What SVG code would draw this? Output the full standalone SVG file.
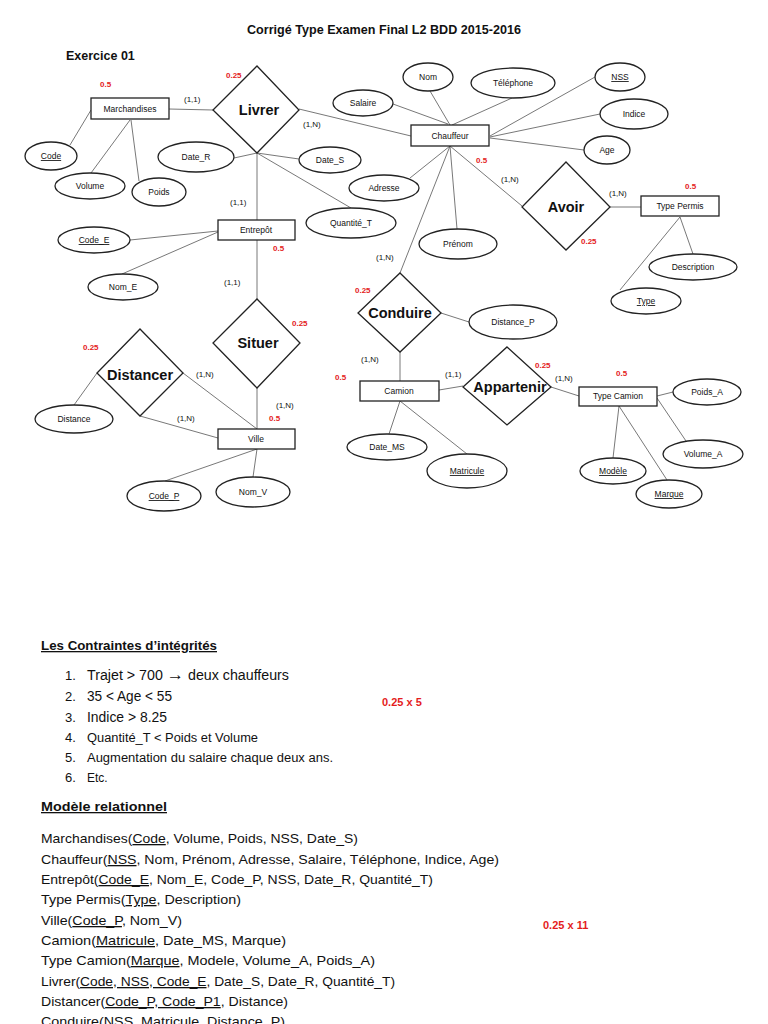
<svg xmlns="http://www.w3.org/2000/svg" width="768" height="1024" viewBox="0 0 768 1024">
<style>
text{font-family:"Liberation Sans",Arial,sans-serif;fill:#111}
.ent rect,.attr ellipse,.rel polygon{fill:#fff;stroke:#222;stroke-width:1.3}
.conn line{stroke:#555;stroke-width:0.8}
.lbl{font-size:8.5px;text-anchor:middle}
.big{font-size:14.5px;font-weight:bold;text-anchor:middle}
.card{font-size:8px}
.red{font-size:8px;fill:#e41c1c;font-weight:bold}
.redbig{font-size:11px;fill:#e41c1c;font-weight:bold}
.u{text-decoration:underline}
.body{font-size:13px}
.head{font-size:13px;font-weight:bold;text-decoration:underline}
</style>
<rect width="768" height="1024" fill="#fff"/>
<text x="384" y="34" font-size="12.5" font-weight="bold" text-anchor="middle" textLength="274" lengthAdjust="spacingAndGlyphs">Corrigé Type Examen Final L2 BDD 2015-2016</text>
<text x="66" y="60" font-size="12.5" font-weight="bold">Exercice 01</text>

<g class="conn">
<line x1="169" y1="109" x2="213" y2="110"/>
<line x1="299" y1="109" x2="411" y2="136"/>
<line x1="91" y1="110" x2="70" y2="145"/>
<line x1="130" y1="120" x2="91" y2="173"/>
<line x1="131" y1="120" x2="139" y2="181"/>
<line x1="257" y1="153" x2="234" y2="158"/>
<line x1="257" y1="153" x2="299" y2="159"/>
<line x1="257" y1="153" x2="351" y2="208"/>
<line x1="257" y1="153" x2="257" y2="220"/>
<line x1="430" y1="91" x2="450" y2="125"/>
<line x1="512" y1="98" x2="452" y2="125"/>
<line x1="393" y1="104" x2="448" y2="124"/>
<line x1="595" y1="77" x2="490" y2="136"/>
<line x1="600" y1="114" x2="490" y2="137"/>
<line x1="584" y1="150" x2="490" y2="138"/>
<line x1="450" y1="146" x2="410" y2="178"/>
<line x1="450" y1="146" x2="457" y2="229"/>
<line x1="450" y1="146" x2="400" y2="273"/>
<line x1="450" y1="146" x2="522" y2="206"/>
<line x1="610" y1="207" x2="641" y2="207"/>
<line x1="680" y1="217" x2="693" y2="254"/>
<line x1="680" y1="217" x2="620" y2="290"/>
<line x1="218" y1="231" x2="130" y2="240"/>
<line x1="218" y1="232" x2="122" y2="274"/>
<line x1="257" y1="240" x2="257" y2="299"/>
<line x1="257" y1="388" x2="257" y2="429"/>
<line x1="183" y1="373" x2="257" y2="429"/>
<line x1="140" y1="416" x2="218" y2="438"/>
<line x1="97" y1="373" x2="74" y2="405"/>
<line x1="257" y1="449" x2="165" y2="481"/>
<line x1="257" y1="449" x2="253" y2="477"/>
<line x1="441" y1="313" x2="469" y2="322"/>
<line x1="400" y1="352" x2="400" y2="381"/>
<line x1="439" y1="390" x2="463" y2="386"/>
<line x1="551" y1="387" x2="579" y2="396"/>
<line x1="400" y1="401" x2="389" y2="434"/>
<line x1="400" y1="401" x2="467" y2="454"/>
<line x1="657" y1="396" x2="673" y2="392"/>
<line x1="657" y1="398" x2="686" y2="441"/>
<line x1="619" y1="406" x2="613" y2="458"/>
<line x1="619" y1="406" x2="667" y2="480"/>
</g>

<g id="marchandises" class="ent"><rect x="91" y="98" width="78" height="21"/><text class="lbl" x="130" y="112">Marchandises</text></g>
<g id="chauffeur" class="ent"><rect x="411" y="125" width="78" height="21"/><text class="lbl" x="450" y="139">Chauffeur</text></g>
<g id="typepermis" class="ent"><rect x="641" y="196" width="78" height="20"/><text class="lbl" x="680" y="209">Type Permis</text></g>
<g id="entrepot" class="ent"><rect x="218" y="220" width="77" height="20"/><text class="lbl" x="256" y="233">Entrepôt</text></g>
<g id="ville" class="ent"><rect x="218" y="429" width="77" height="20"/><text class="lbl" x="256" y="442">Ville</text></g>
<g id="camion" class="ent"><rect x="360" y="381" width="79" height="20"/><text class="lbl" x="399" y="394">Camion</text></g>
<g id="typecamion" class="ent"><rect x="579" y="387" width="78" height="19"/><text class="lbl" x="618" y="399">Type Camion</text></g>

<g id="livrer" class="rel"><polygon points="257,66 299,110 257,153 213,110"/><text class="big" x="259" y="115">Livrer</text></g>
<g id="avoir" class="rel"><polygon points="566,162 610,207 566,250 522,207"/><text class="big" x="566" y="212">Avoir</text></g>
<g id="situer" class="rel"><polygon points="257,299 300,343 257,388 213,343"/><text class="big" x="258" y="348">Situer</text></g>
<g id="distancer" class="rel"><polygon points="140,329 183,373 140,416 97,373"/><text class="big" x="140" y="380">Distancer</text></g>
<g id="conduire" class="rel"><polygon points="400,273 441,313 400,352 358,313"/><text class="big" x="400" y="318">Conduire</text></g>
<g id="appartenir" class="rel"><polygon points="507,347 551,387 507,425 463,387"/><text class="big" x="510" y="392">Appartenir</text></g>

<g id="code" class="attr"><ellipse cx="51" cy="156" rx="26" ry="14"/><text class="lbl u" x="51" y="159">Code</text></g>
<g id="volume" class="attr"><ellipse cx="90" cy="186" rx="35" ry="13"/><text class="lbl" x="90" y="189">Volume</text></g>
<g id="poids" class="attr"><ellipse cx="159" cy="192" rx="27" ry="14"/><text class="lbl" x="159" y="195">Poids</text></g>
<g id="dater" class="attr"><ellipse cx="196" cy="157" rx="38" ry="15"/><text class="lbl" x="196" y="160">Date_R</text></g>
<g id="dates" class="attr"><ellipse cx="330" cy="160" rx="31" ry="13"/><text class="lbl" x="330" y="163">Date_S</text></g>
<g id="quantitet" class="attr"><ellipse cx="351" cy="223" rx="45" ry="15"/><text class="lbl" x="351" y="226">Quantité_T</text></g>
<g id="nom" class="attr"><ellipse cx="428" cy="77" rx="25" ry="14"/><text class="lbl" x="428" y="80">Nom</text></g>
<g id="telephone" class="attr"><ellipse cx="513" cy="83" rx="42" ry="15"/><text class="lbl" x="513" y="86">Téléphone</text></g>
<g id="salaire" class="attr"><ellipse cx="363" cy="103" rx="30" ry="13"/><text class="lbl" x="363" y="106">Salaire</text></g>
<g id="nss" class="attr"><ellipse cx="620" cy="77" rx="25" ry="14"/><text class="lbl u" x="620" y="80">NSS</text></g>
<g id="indice" class="attr"><ellipse cx="634" cy="114" rx="34" ry="15"/><text class="lbl" x="634" y="117">Indice</text></g>
<g id="age" class="attr"><ellipse cx="607" cy="150" rx="23" ry="14"/><text class="lbl" x="607" y="153">Age</text></g>
<g id="adresse" class="attr"><ellipse cx="384" cy="188" rx="35" ry="13"/><text class="lbl" x="384" y="191">Adresse</text></g>
<g id="prenom" class="attr"><ellipse cx="458" cy="244" rx="39" ry="15"/><text class="lbl" x="458" y="247">Prénom</text></g>
<g id="description" class="attr"><ellipse cx="693" cy="267" rx="44" ry="13"/><text class="lbl" x="693" y="270">Description</text></g>
<g id="type" class="attr"><ellipse cx="646" cy="301" rx="35" ry="13"/><text class="lbl u" x="646" y="304">Type</text></g>
<g id="codee" class="attr"><ellipse cx="94" cy="240" rx="36" ry="13"/><text class="lbl u" x="94" y="243">Code_E</text></g>
<g id="nome" class="attr"><ellipse cx="123" cy="287" rx="35" ry="13"/><text class="lbl" x="123" y="290">Nom_E</text></g>
<g id="distance" class="attr"><ellipse cx="74" cy="419" rx="39" ry="14"/><text class="lbl" x="74" y="422">Distance</text></g>
<g id="codep" class="attr"><ellipse cx="164" cy="496" rx="37" ry="15"/><text class="lbl u" x="164" y="499">Code_P</text></g>
<g id="nomv" class="attr"><ellipse cx="253" cy="492" rx="37" ry="15"/><text class="lbl" x="253" y="495">Nom_V</text></g>
<g id="distancep" class="attr"><ellipse cx="513" cy="322" rx="44" ry="17"/><text class="lbl" x="513" y="325">Distance_P</text></g>
<g id="datems" class="attr"><ellipse cx="387" cy="447" rx="40" ry="13"/><text class="lbl" x="387" y="450">Date_MS</text></g>
<g id="matricule" class="attr"><ellipse cx="467" cy="471" rx="40" ry="17"/><text class="lbl u" x="467" y="474">Matricule</text></g>
<g id="poidsa" class="attr"><ellipse cx="707" cy="392" rx="34" ry="13"/><text class="lbl" x="707" y="395">Poids_A</text></g>
<g id="volumea" class="attr"><ellipse cx="703" cy="454" rx="40" ry="14"/><text class="lbl" x="703" y="457">Volume_A</text></g>
<g id="modele" class="attr"><ellipse cx="613" cy="471" rx="33" ry="13"/><text class="lbl u" x="613" y="474">Modèle</text></g>
<g id="marque" class="attr"><ellipse cx="669" cy="494" rx="33" ry="14"/><text class="lbl u" x="669" y="497">Marque</text></g>

<g id="cardinalities">
<text class="card" x="184" y="102">(1,1)</text>
<text class="card" x="303" y="127">(1,N)</text>
<text class="card" x="230" y="205">(1,1)</text>
<text class="card" x="501" y="182">(1,N)</text>
<text class="card" x="609" y="196">(1,N)</text>
<text class="card" x="224" y="285">(1,1)</text>
<text class="card" x="376" y="260">(1,N)</text>
<text class="card" x="196" y="377">(1,N)</text>
<text class="card" x="177" y="421">(1,N)</text>
<text class="card" x="276" y="408">(1,N)</text>
<text class="card" x="361" y="362">(1,N)</text>
<text class="card" x="445" y="377">(1,1)</text>
<text class="card" x="555" y="381">(1,N)</text>
</g>
<g id="scores">
<text class="red" x="100" y="87">0.5</text>
<text class="red" x="226" y="78">0.25</text>
<text class="red" x="476" y="163">0.5</text>
<text class="red" x="685" y="189">0.5</text>
<text class="red" x="581" y="244">0.25</text>
<text class="red" x="273" y="251">0.5</text>
<text class="red" x="292" y="326">0.25</text>
<text class="red" x="83" y="350">0.25</text>
<text class="red" x="355" y="293">0.25</text>
<text class="red" x="269" y="421">0.5</text>
<text class="red" x="335" y="380">0.5</text>
<text class="red" x="535" y="368">0.25</text>
<text class="red" x="616" y="376">0.5</text>
</g>

<text class="head" x="41" y="650" textLength="176" lengthAdjust="spacingAndGlyphs">Les Contraintes d’intégrités</text>
<g class="body">
<text x="65" y="680">1.</text><text x="87" y="680" font-size="14" textLength="202" lengthAdjust="spacingAndGlyphs">Trajet &gt; 700  <tspan font-size="17">→</tspan> deux chauffeurs</text>
<text x="65" y="701">2.</text><text x="87" y="701" font-size="14" textLength="85" lengthAdjust="spacingAndGlyphs">35 &lt; Age &lt; 55</text>
<text x="65" y="722">3.</text><text x="87" y="722" font-size="14" textLength="80" lengthAdjust="spacingAndGlyphs">Indice &gt; 8.25</text>
<text x="65" y="742">4.</text><text x="87" y="742" font-size="12" textLength="171" lengthAdjust="spacingAndGlyphs">Quantité_T &lt; Poids et Volume</text>
<text x="65" y="762">5.</text><text x="87" y="762" font-size="12" textLength="246" lengthAdjust="spacingAndGlyphs">Augmentation du salaire chaque deux ans.</text>
<text x="65" y="782">6.</text><text x="87" y="782" font-size="12">Etc.</text>
</g>
<text class="redbig" x="382" y="706">0.25 x 5</text>

<text class="head" x="41" y="811" textLength="126" lengthAdjust="spacingAndGlyphs">Modèle relationnel</text>
<g class="body">
<text x="41" y="843" textLength="317" lengthAdjust="spacingAndGlyphs">Marchandises(<tspan class="u">Code</tspan>, Volume, Poids, NSS, Date_S)</text>
<text x="41" y="864" textLength="458" lengthAdjust="spacingAndGlyphs">Chauffeur(<tspan class="u">NSS</tspan>, Nom, Prénom, Adresse, Salaire, Téléphone, Indice, Age)</text>
<text x="41" y="884" textLength="392" lengthAdjust="spacingAndGlyphs">Entrepôt(<tspan class="u">Code_E</tspan>, Nom_E, Code_P, NSS, Date_R, Quantité_T)</text>
<text x="41" y="904" textLength="200" lengthAdjust="spacingAndGlyphs">Type Permis(<tspan class="u">Type</tspan>, Description)</text>
<text x="41" y="925" textLength="141" lengthAdjust="spacingAndGlyphs">Ville(<tspan class="u">Code_P</tspan>, Nom_V)</text>
<text x="41" y="945" textLength="245" lengthAdjust="spacingAndGlyphs">Camion(<tspan class="u">Matricule</tspan>, Date_MS, Marque)</text>
<text x="41" y="965" textLength="334" lengthAdjust="spacingAndGlyphs">Type Camion(<tspan class="u">Marque</tspan>, Modele, Volume_A, Poids_A)</text>
<text x="41" y="986" textLength="354" lengthAdjust="spacingAndGlyphs">Livrer(<tspan class="u">Code, NSS, Code_E</tspan>, Date_S, Date_R, Quantité_T)</text>
<text x="41" y="1006" textLength="247" lengthAdjust="spacingAndGlyphs">Distancer(<tspan class="u">Code_P, Code_P1</tspan>, Distance)</text>
<text x="41" y="1026" textLength="244" lengthAdjust="spacingAndGlyphs">Conduire(<tspan class="u">NSS, Matricule</tspan>, Distance_P)</text>
</g>
<text class="redbig" x="543" y="929">0.25 x 11</text>
</svg>
